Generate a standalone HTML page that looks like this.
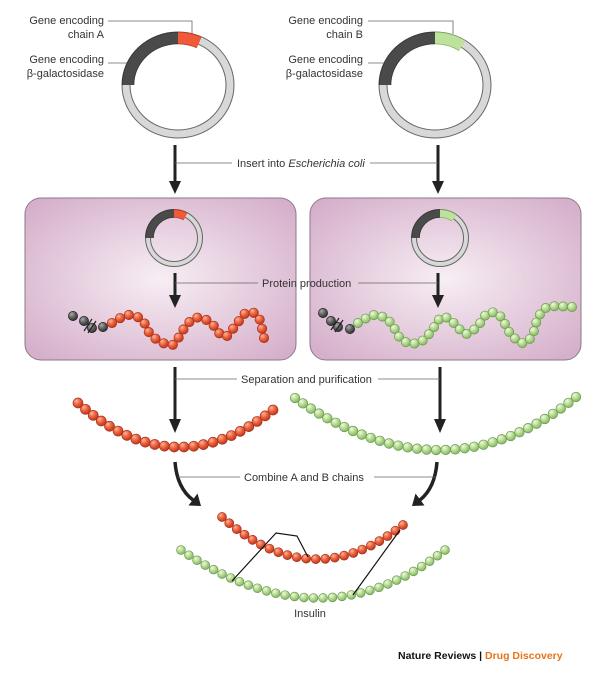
<!DOCTYPE html>
<html><head><meta charset="utf-8"><style>
html,body{margin:0;padding:0;background:#fff;}
svg{display:block;}
text{font-family:"Liberation Sans",Arial,sans-serif;fill:#333;}
</style></head><body>
<svg id="s" width="600" height="675" viewBox="0 0 600 675" xmlns="http://www.w3.org/2000/svg">
<defs>
<radialGradient id="pk" cx="50%" cy="50%" r="65%">
<stop offset="0" stop-color="#f7eef4"/><stop offset="1" stop-color="#d6b0cb"/></radialGradient>
<radialGradient id="rb" cx="35%" cy="30%" r="70%"><stop offset="0" stop-color="#ffb59a"/><stop offset=".45" stop-color="#ef6a45"/><stop offset="1" stop-color="#c2361c"/></radialGradient>
<radialGradient id="gb" cx="35%" cy="30%" r="70%"><stop offset="0" stop-color="#eefadf"/><stop offset=".45" stop-color="#bfe09a"/><stop offset="1" stop-color="#86b865"/></radialGradient>
<radialGradient id="kb" cx="35%" cy="30%" r="70%"><stop offset="0" stop-color="#aaa"/><stop offset=".5" stop-color="#666"/><stop offset="1" stop-color="#333"/></radialGradient>
</defs>

<g font-size="11" text-anchor="end">
<text x="104" y="24">Gene encoding</text><text x="104" y="38">chain A</text>
<text x="104" y="63">Gene encoding</text><text x="104" y="77">β-galactosidase</text>
<text x="363" y="24">Gene encoding</text><text x="363" y="38">chain B</text>
<text x="363" y="63">Gene encoding</text><text x="363" y="77">β-galactosidase</text>
</g>
<g stroke="#666" stroke-width="0.8" fill="none">
<polyline points="108,21 192,21 192,34"/><line x1="108" y1="63" x2="128" y2="63"/>
<polyline points="368,21 453,21 453,34"/><line x1="368" y1="63" x2="386" y2="63"/>
</g>

<g id="plasmids"></g>

<g stroke="#222" stroke-width="3">
<line x1="175" y1="145" x2="175" y2="182"/><line x1="438" y1="145" x2="438" y2="182"/>
</g>
<g fill="#222"><path d="M169,181 L181,181 L175,194 z"/><path d="M432,181 L444,181 L438,194 z"/></g>
<g stroke="#666" stroke-width="0.8"><line x1="175" y1="163" x2="232" y2="163"/><line x1="370" y1="163" x2="438" y2="163"/></g>
<text x="237" y="167" font-size="11">Insert into <tspan font-style="italic">Escherichia coli</tspan></text>

<rect x="25" y="198" width="271" height="162" rx="16" fill="url(#pk)" stroke="#8a7a86" stroke-width="1"/>
<rect x="310" y="198" width="271" height="162" rx="16" fill="url(#pk)" stroke="#8a7a86" stroke-width="1"/>
<g id="smallp"></g>
<g stroke="#222" stroke-width="3">
<line x1="175" y1="273" x2="175" y2="296"/><line x1="438" y1="273" x2="438" y2="296"/>
</g>
<g fill="#222"><path d="M169,295 L181,295 L175,308 z"/><path d="M432,295 L444,295 L438,308 z"/></g>
<g stroke="#666" stroke-width="0.8"><line x1="175" y1="283" x2="258" y2="283"/><line x1="358" y1="283" x2="438" y2="283"/></g>
<text x="262" y="287" font-size="11">Protein production</text>

<g stroke="#222" stroke-width="3">
<line x1="175" y1="367" x2="175" y2="420"/><line x1="440" y1="367" x2="440" y2="420"/>
</g>
<g fill="#222"><path d="M169,419 L181,419 L175,433 z"/><path d="M434,419 L446,419 L440,433 z"/></g>
<g stroke="#666" stroke-width="0.8"><line x1="175" y1="379" x2="237" y2="379"/><line x1="378" y1="379" x2="440" y2="379"/></g>
<text x="241" y="383" font-size="11">Separation and purification</text>

<g stroke="#222" stroke-width="3.5" fill="none">
<path d="M175,462 Q177,488 193,500"/><path d="M437,462 Q435,488 420,500"/>
</g>
<g fill="#222">
<path d="M201,506 L188.5,505.5 L197.5,493.5 z"/>
<path d="M412,506 L424.5,505.5 L415.5,493.5 z"/>
</g>
<g stroke="#666" stroke-width="0.8"><line x1="178" y1="477" x2="240" y2="477"/><line x1="374" y1="477" x2="436" y2="477"/></g>
<text x="244" y="481" font-size="11">Combine A and B chains</text>

<g id="chains"></g>
<g stroke="#111" stroke-width="1.2" fill="none" id="ss">
<polyline points="232,581 276,533 297,536 308,557"/>
<line x1="353" y1="595" x2="400" y2="530"/>
</g>
<text x="310" y="617" font-size="11" text-anchor="middle">Insulin</text>

<text x="398" y="659" font-size="10.5" font-weight="bold" style="fill:#111">Nature Reviews | <tspan style="fill:#e8731a">Drug Discovery</tspan></text>
</svg>
<script>
var NS="http://www.w3.org/2000/svg",S=document.getElementById('s');
function el(t,a,p){var e=document.createElementNS(NS,t);for(var k in a)e.setAttribute(k,a[k]);(p||S).appendChild(e);return e;}
function arcD(cx,cy,rx,ry,a0,a1){
 function pt(a){var r=a*Math.PI/180;return [cx+rx*Math.sin(r),cy-ry*Math.cos(r)];}
 var p0=pt(a0),p1=pt(a1),large=(a1-a0)>180?1:0;
 return "M"+p0[0]+","+p0[1]+" A"+rx+","+ry+" 0 "+large+" 1 "+p1[0]+","+p1[1];}
function plasmid(g,cx,cy,rx,ry,w,dw,col,colEnd,colStroke){
 el('ellipse',{cx:cx,cy:cy,rx:rx,ry:ry,fill:'none',stroke:'#666','stroke-width':w+2},g);
 el('ellipse',{cx:cx,cy:cy,rx:rx,ry:ry,fill:'none',stroke:'#d8d8d8','stroke-width':w},g);
 var ir=dw/2-w/2;
 el('path',{d:arcD(cx,cy,rx-ir,ry-ir,-90,0),fill:'none',stroke:'#333','stroke-width':dw+1.5},g);
 el('path',{d:arcD(cx,cy,rx-ir,ry-ir,-90,0),fill:'none',stroke:'#4a4a4a','stroke-width':dw},g);
 el('path',{d:arcD(cx,cy,rx-ir,ry-ir,0,colEnd),fill:'none',stroke:colStroke,'stroke-width':dw+1.5},g);
 el('path',{d:arcD(cx,cy,rx-ir,ry-ir,0,colEnd),fill:'none',stroke:col,'stroke-width':dw},g);
}
var P=document.getElementById('plasmids'),SP=document.getElementById('smallp');
plasmid(P,178,85,52,49,7,11,'#ef5a38',25,'#b8361c');
plasmid(P,435,85,52,49,7,11,'#bde29c',33,'#7fae60');
plasmid(SP,174,238,26,26,4,7,'#ef5a38',28,'#b8361c');
plasmid(SP,440,238,26,26,4,7,'#bde29c',35,'#7fae60');
var C=document.getElementById('chains');
function beads(d,r,sp,fill,stroke){
 var p=el('path',{d:d,fill:'none'},C),L=p.getTotalLength(),n=Math.round(L/sp);
 for(var i=0;i<=n;i++){var q=p.getPointAtLength(L*i/n);
  el('circle',{cx:q.x,cy:q.y,r:r,fill:fill,stroke:stroke,'stroke-width':0.7},C);}
}
function smooth(pts){var d="M"+pts[0][0]+","+pts[0][1];
 for(var i=0;i<pts.length-1;i++){var p0=pts[Math.max(0,i-1)],p1=pts[i],p2=pts[i+1],p3=pts[Math.min(pts.length-1,i+2)];
  var c1=[p1[0]+(p2[0]-p0[0])/6,p1[1]+(p2[1]-p0[1])/6],c2=[p2[0]-(p3[0]-p1[0])/6,p2[1]-(p3[1]-p1[1])/6];
  d+=" C"+c1+" "+c2+" "+p2;}return d;}
var R=['url(#rb)','#a8301c'],G=['url(#gb)','#6a9a50'],K=['url(#kb)','#222'];
[[73,316],[84,321],[92,328],[103,327]].forEach(function(q){el('circle',{cx:q[0],cy:q[1],r:4.6,fill:K[0],stroke:K[1],'stroke-width':0.7},C);});
[[323,313],[331,321],[338,327],[350,329]].forEach(function(q){el('circle',{cx:q[0],cy:q[1],r:4.6,fill:K[0],stroke:K[1],'stroke-width':0.7},C);});
el('path',{d:"M84,331 L92,319 M88,333 L96,321",stroke:'#222','stroke-width':1.2,fill:'none'},C);
el('path',{d:"M331,330 L339,318 M335,332 L343,320",stroke:'#222','stroke-width':1.2,fill:'none'},C);
beads(smooth([[112,323],[128,315],[142,320],[152,336],[172,345],[183,330],[195,318],[210,322],[224,337],[236,325],[246,313],[258,316],[264,338]]),4.7,9.3,R[0],R[1]);
beads(smooth([[358,323],[375,315],[390,322],[402,340],[418,343],[430,333],[442,317],[455,324],[465,334],[477,327],[488,313],[500,316],[510,333],[522,343],[532,336],[538,318],[548,307],[572,307]]),4.6,8.8,G[0],G[1]);
beads("M78,403 Q174.5,487.5 273,410",5,9.6,R[0],R[1]);
beads("M295,398 Q444.5,502.5 576,397",4.8,9.6,G[0],G[1]);
beads("M181,550 Q323,646 445,550",4.4,9.4,G[0],G[1]);
beads("M222,517 Q311.5,597 403,525",4.5,9.4,R[0],R[1]);
S.appendChild(document.getElementById('ss'));
</script>
</body></html>
